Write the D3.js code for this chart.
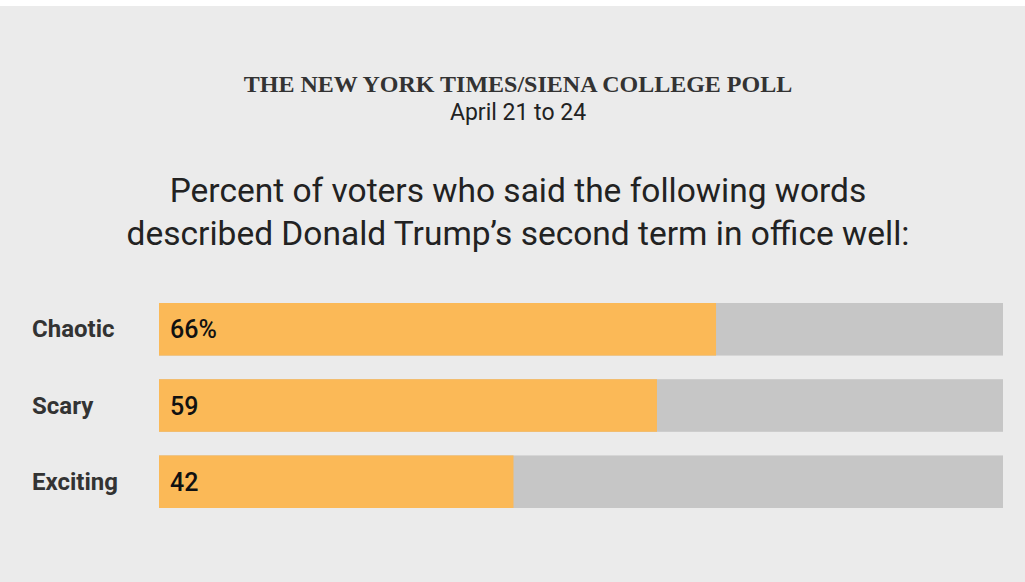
<!DOCTYPE html>
<html><head><meta charset="utf-8">
<script src="https://cdn.jsdelivr.net/npm/d3@7"></script>
<style>body{margin:0;background:#fff}</style>
</head><body><div id="chart"></div>
<script>
var words = ["Chaotic", "Scary", "Exciting"];
var values = [66, 59, 42];
var valueLabels = ["66%", "59", "42"];

var width = 1025, height = 582;
var svg = d3.select("#chart").append("svg").attr("width", width).attr("height", height);
svg.append("rect").attr("y", 6).attr("width", width).attr("height", height - 6).attr("fill", "#ebebeb");

var x = d3.scaleLinear().domain([0, 100]).range([159, 1003]);
var y = d3.scaleBand().domain(words).range([303, 508]).paddingInner(0.31);

svg.append("text").attr("x", 518).attr("y", 92).attr("text-anchor", "middle")
  .style("font-family", "Liberation Serif, serif").style("font-weight", "bold").style("font-size", "24px")
  .attr("fill", "#333").text("THE NEW YORK TIMES/SIENA COLLEGE POLL");
svg.append("text").attr("x", 518).attr("y", 120).attr("text-anchor", "middle")
  .style("font-family", "Roboto, sans-serif").style("font-size", "23px")
  .attr("fill", "#222").text("April 21 to 24");
svg.selectAll(".head").data(["Percent of voters who said the following words", "described Donald Trump’s second term in office well:"])
  .enter().append("text").attr("x", 518).attr("y", function(d, i) { return 202 + i * 43; })
  .attr("text-anchor", "middle").style("font-family", "Roboto, sans-serif").style("font-size", "33.5px")
  .attr("fill", "#222").text(function(d) { return d; });

var g = svg.selectAll(".row").data(words).enter().append("g");
g.append("rect").attr("x", x(0)).attr("y", function(d) { return y(d); })
  .attr("width", x(100) - x(0)).attr("height", y.bandwidth()).attr("fill", "#c6c6c6");
g.append("rect").attr("x", x(0)).attr("y", function(d) { return y(d); })
  .attr("width", function(d, i) { return x(values[i]) - x(0); }).attr("height", y.bandwidth()).attr("fill", "#fbb957");
g.append("text").attr("x", 32).attr("y", function(d) { return y(d) + y.bandwidth() / 2 + 8; })
  .style("font-family", "Roboto, sans-serif").style("font-weight", "bold").style("font-size", "24px")
  .attr("fill", "#333").text(function(d) { return d; });
g.append("text").attr("x", 170).attr("y", function(d) { return y(d) + y.bandwidth() / 2 + 9; })
  .style("font-family", "Roboto, sans-serif").style("font-weight", "500").style("font-size", "25px")
  .attr("fill", "#111").text(function(d, i) { return valueLabels[i]; });
</script></body></html>
